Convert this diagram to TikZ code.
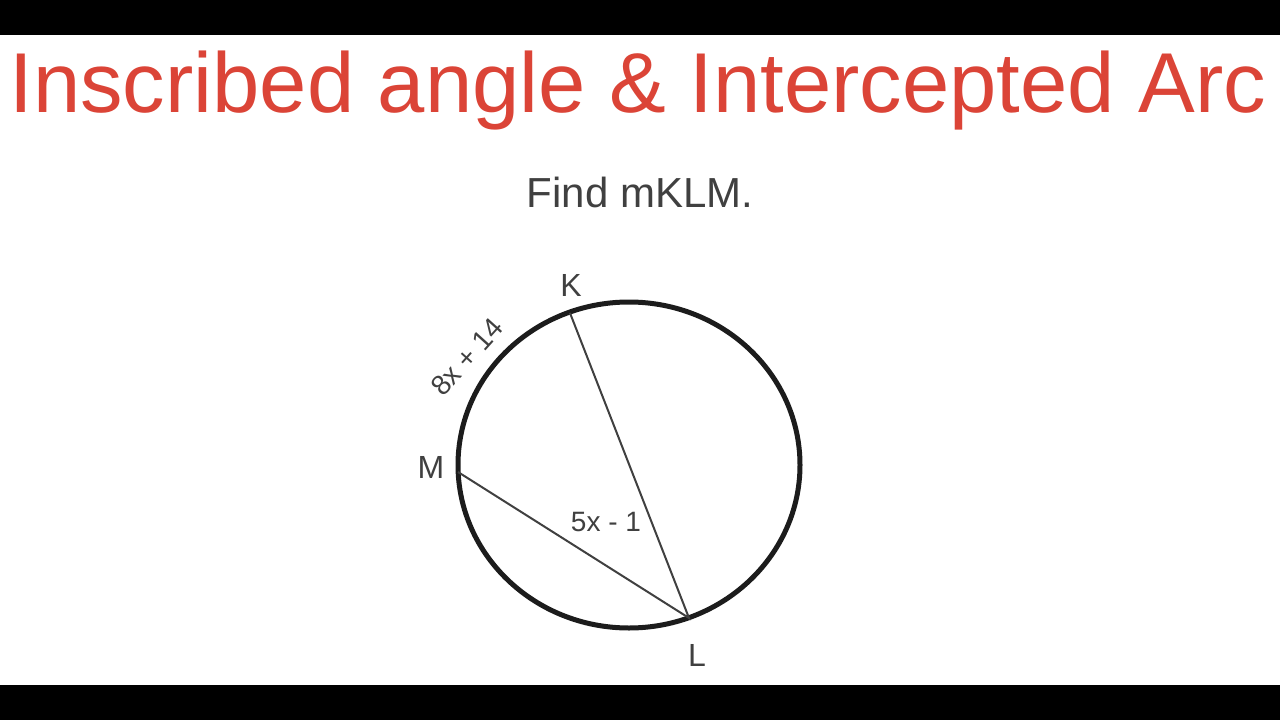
\documentclass[tikz,border=0pt]{standalone}
\usepackage{fontspec}
\setmainfont{Liberation Sans}
\usepackage{xcolor}
\definecolor{titlered}{HTML}{DB4437}
\definecolor{textgray}{HTML}{404040}
\definecolor{rimgray}{HTML}{1C1C1C}

\tikzset{
  lbl/.style={inner sep=0pt, text=textgray, font=\fontsize{32}{36}\selectfont},
  arclbl/.style={inner sep=0pt, text=textgray, font=\fontsize{28}{32}\selectfont},
  chord/.style={draw=textgray, line width=2pt}
}

\begin{document}
\begin{tikzpicture}[x=1pt,y=-1pt]
\useasboundingbox (0,0) rectangle (1280,720);

% Draw black bars
\fill[black] (0,0) rectangle (1280,35);
\fill[black] (0,685) rectangle (1280,720);

% Draw title and question
\node[inner sep=0pt, anchor=base, text=titlered, font=\fontsize{85}{90}\selectfont] (title) at (638,112) {Inscribed angle \& Intercepted Arc};
\node[inner sep=0pt, anchor=base, text=textgray, font=\fontsize{42}{46}\selectfont] (question) at (640,207) {Find mKLM.};

% Draw circle
\coordinate (O) at (629,465);
\draw[draw=rimgray, line width=5pt] (O) ellipse [x radius=171, y radius=163];

% Points on the circle
\coordinate (K) at (570,313);
\coordinate (M) at (458,472);
\coordinate (L) at (689,618);

% Draw chords
\draw[chord] (K) -- (L) -- (M);

% Add point labels
\node[lbl] (labK) at (571,285) {K};
\node[lbl] (labM) at (431,467) {M};
\node[lbl] (labL) at (697,655) {L};

% Add arc labels
\node[arclbl] (arcKM) at (467,357) [rotate=48] {8x + 14};
\node[arclbl] (arcML) at (606,522) {5x - 1};
\end{tikzpicture}
\end{document}
